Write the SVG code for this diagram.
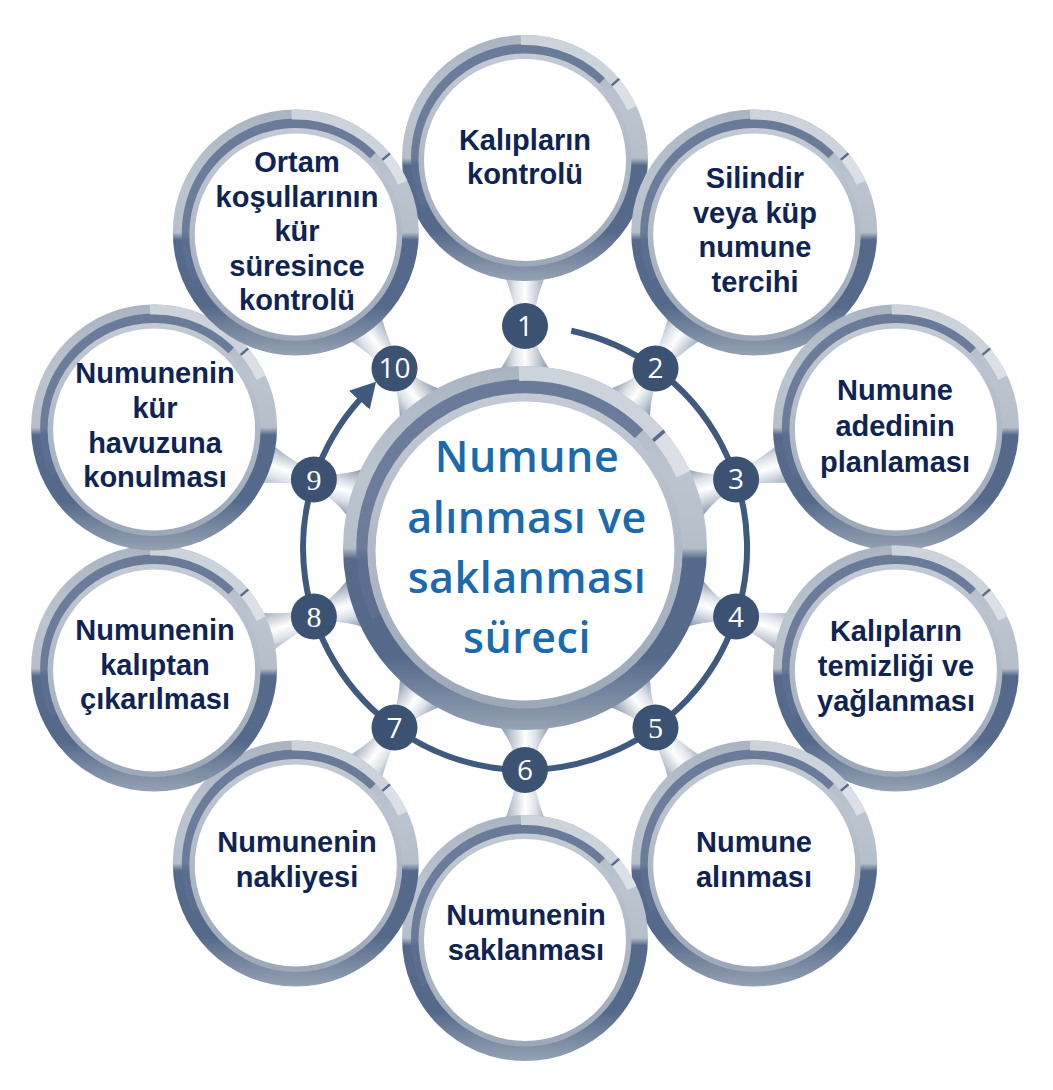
<svg xmlns="http://www.w3.org/2000/svg" xmlns:xlink="http://www.w3.org/1999/xlink" width="1053" height="1090" viewBox="0 0 1053 1090">
<style>
.t{font-family:"Liberation Sans",Arial,sans-serif;font-weight:bold;font-size:29px;fill:#0f2452;text-anchor:middle}
.c{font-family:"Open Sans","Liberation Sans",sans-serif;font-weight:600;font-size:43px;fill:#1a6aad;text-anchor:middle;letter-spacing:0.5px}
.n{font-family:"Open Sans","Liberation Sans",sans-serif;font-size:28px;fill:#ffffff;text-anchor:middle}
.ns{font-family:"Liberation Serif","Times New Roman",serif;font-size:30px;fill:#ffffff;text-anchor:middle}
.dot{fill:#3b5273}
.arc{fill:none;stroke:#3f5a7d;stroke-width:6}
</style>
<defs>
<linearGradient id="gRing" x1="0" y1="0" x2="0" y2="1">
<stop offset="0" stop-color="#aab4c1"/>
<stop offset="0.3" stop-color="#bcc4cf"/>
<stop offset="0.5" stop-color="#b5bec9"/>
<stop offset="0.53" stop-color="#55698a"/>
<stop offset="0.8" stop-color="#556a8b"/>
<stop offset="1" stop-color="#96a2b4"/>
</linearGradient>
<linearGradient id="gBorder" x1="0" y1="0" x2="0" y2="1">
<stop offset="0" stop-color="#c3cad4"/>
<stop offset="1" stop-color="#9ca8b8"/>
</linearGradient>
<linearGradient id="gSpoke" x1="0" y1="0" x2="0" y2="1">
<stop offset="0" stop-color="#7f8da1"/>
<stop offset="0.3" stop-color="#dde2e8"/>
<stop offset="0.5" stop-color="#ffffff"/>
<stop offset="0.72" stop-color="#c8cfd8"/>
<stop offset="1" stop-color="#7a899d"/>
</linearGradient>
<g id="ring">
<circle r="123" fill="url(#gRing)"/>
<path d="M-103.3,48.2 A114,114 0 0,1 80.6,-80.6 L73.5,-73.5 A104,104 0 0,0 -94.3,44 Z" fill="#5e7090" opacity="0.85"/>
<path d="M-4.3,-122.9 A123,123 0 0,1 94.2,-79.1 L86.6,-72.6 A113,113 0 0,0 -3.9,-112.9 Z" fill="#ccd3db"/>
<path d="M94.2,-79.1 A123,123 0 0,1 111.5,-52 L102.4,-47.8 A113,113 0 0,0 86.6,-72.6 Z" fill="#dbe0e6"/>
<line x1="86.6" y1="-72.6" x2="94.2" y2="-79.1" stroke="#5a6c89" stroke-width="2.5"/>
<circle r="106.5" cy="2" fill="url(#gBorder)"/>
<circle r="101" cy="2" fill="#ffffff"/>
</g>
<path id="spoke" d="M175,-27 C195,-14 205,-9 222,-9 C240,-9 252,-13 272,-20 L272,20 C252,13 240,9 222,9 C205,9 195,14 175,27 Z" fill="url(#gSpoke)"/>
<marker id="arr" viewBox="0 -15 26 30" refX="1" refY="0" markerWidth="26" markerHeight="30" markerUnits="userSpaceOnUse" orient="auto">
<path d="M0,-14 L25,0 L0,14 Z" fill="#3f5a7d"/>
</marker>
</defs>
<rect width="1053" height="1090" fill="#ffffff"/>
<g id="connectors">
<g transform="translate(525,548)">
<use xlink:href="#spoke" transform="rotate(-90)"/>
<use xlink:href="#spoke" transform="rotate(-54)"/>
<use xlink:href="#spoke" transform="rotate(-18)"/>
<use xlink:href="#spoke" transform="rotate(18)"/>
<use xlink:href="#spoke" transform="rotate(54)"/>
<use xlink:href="#spoke" transform="rotate(90)"/>
<use xlink:href="#spoke" transform="rotate(126)"/>
<use xlink:href="#spoke" transform="rotate(162)"/>
<use xlink:href="#spoke" transform="rotate(198)"/>
<use xlink:href="#spoke" transform="rotate(234)"/>
</g>
<path class="arc" d="M571.2,330.8 A222,222 0 1,1 360,399.5" marker-end="url(#arr)"/>
</g>
<g id="steps">
<circle class="dot" cx="525" cy="326" r="23"/><text class="n" x="525" y="336">1</text>
<circle class="dot" cx="655.5" cy="368.4" r="23"/><text class="n" x="655.5" y="378.4">2</text>
<circle class="dot" cx="736.1" cy="479.4" r="23"/><text class="n" x="736.1" y="489.4">3</text>
<circle class="dot" cx="736.1" cy="616.6" r="23"/><text class="n" x="736.1" y="626.6">4</text>
<circle class="dot" cx="655.5" cy="727.6" r="23"/><text class="ns" x="655.5" y="738">5</text>
<circle class="dot" cx="525" cy="770" r="23"/><text class="n" x="525" y="780">6</text>
<circle class="dot" cx="394.5" cy="727.6" r="23"/><text class="n" x="394.5" y="737.6">7</text>
<circle class="dot" cx="313.9" cy="616.6" r="23"/><text class="ns" x="313.9" y="627">8</text>
<circle class="dot" cx="313.9" cy="479.4" r="23"/><text class="ns" x="313.9" y="490">9</text>
<circle class="dot" cx="394.5" cy="368.4" r="23"/><text class="n" x="394.5" y="378.4">10</text>
</g>
<g id="center">
<use xlink:href="#ring" transform="translate(525,548) scale(1.48)"/>
<text class="c" x="527" y="472">Numune</text>
<text class="c" x="527" y="533">alınması ve</text>
<text class="c" x="527" y="593">saklanması</text>
<text class="c" x="527" y="653">süreci</text>
</g>
<g id="node1">
<use xlink:href="#ring" transform="translate(525,158)"/>
<text class="t" x="525" y="150">Kalıpların</text>
<text class="t" x="525" y="184">kontrolü</text>
</g>
<g id="node2">
<use xlink:href="#ring" transform="translate(754.2,232.5)"/>
<text class="t" x="755" y="188">Silindir</text>
<text class="t" x="755" y="223">veya küp</text>
<text class="t" x="755" y="257">numune</text>
<text class="t" x="755" y="292">tercihi</text>
</g>
<g id="node3">
<use xlink:href="#ring" transform="translate(895.9,427.5)"/>
<text class="t" x="895" y="400">Numune</text>
<text class="t" x="895" y="436">adedinin</text>
<text class="t" x="895" y="472">planlaması</text>
</g>
<g id="node4">
<use xlink:href="#ring" transform="translate(895.9,668.5)"/>
<text class="t" x="896" y="641">Kalıpların</text>
<text class="t" x="896" y="676">temizliği ve</text>
<text class="t" x="896" y="711">yağlanması</text>
</g>
<g id="node5">
<use xlink:href="#ring" transform="translate(754.2,863.5)"/>
<text class="t" x="754" y="852">Numune</text>
<text class="t" x="754" y="887">alınması</text>
</g>
<g id="node6">
<use xlink:href="#ring" transform="translate(525,938)"/>
<text class="t" x="526" y="925">Numunenin</text>
<text class="t" x="526" y="960">saklanması</text>
</g>
<g id="node7">
<use xlink:href="#ring" transform="translate(295.8,863.5)"/>
<text class="t" x="297" y="852">Numunenin</text>
<text class="t" x="297" y="887">nakliyesi</text>
</g>
<g id="node8">
<use xlink:href="#ring" transform="translate(154.1,668.5)"/>
<text class="t" x="155" y="640">Numunenin</text>
<text class="t" x="155" y="675">kalıptan</text>
<text class="t" x="155" y="709">çıkarılması</text>
</g>
<g id="node9">
<use xlink:href="#ring" transform="translate(154.1,427.5)"/>
<text class="t" x="155" y="383">Numunenin</text>
<text class="t" x="155" y="418">kür</text>
<text class="t" x="155" y="453">havuzuna</text>
<text class="t" x="155" y="487">konulması</text>
</g>
<g id="node10">
<use xlink:href="#ring" transform="translate(295.8,232.5)"/>
<text class="t" x="297" y="172">Ortam</text>
<text class="t" x="297" y="207">koşullarının</text>
<text class="t" x="297" y="241">kür</text>
<text class="t" x="297" y="276">süresince</text>
<text class="t" x="297" y="310">kontrolü</text>
</g>
</svg>
